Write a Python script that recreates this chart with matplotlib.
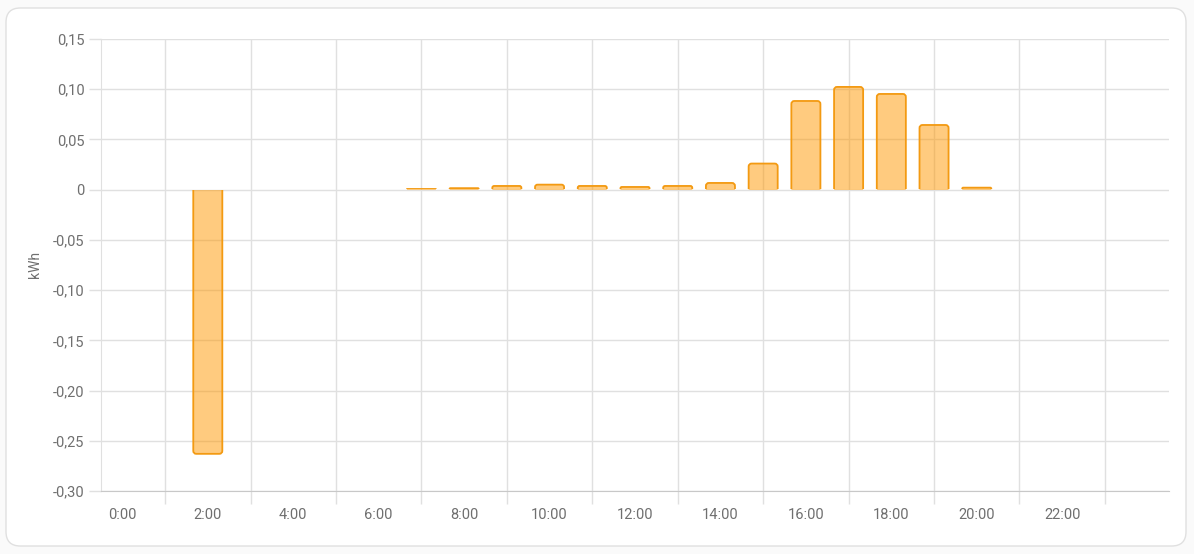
import matplotlib.pyplot as plt
from matplotlib.patches import FancyBboxPatch, Rectangle

plt.rcParams['font.family'] = ['Roboto', 'DejaVu Sans']

# hourly energy (kWh), hour 0..23
hours = list(range(24))
energy = [0, 0, -0.263, 0, 0, 0, 0, 0.0007, 0.0015, 0.0037, 0.005, 0.0037,
          0.0027, 0.0037, 0.0067, 0.026, 0.0883, 0.1023, 0.0953, 0.0644,
          0.002, 0, 0, 0]
y_ticks = [-0.30, -0.25, -0.20, -0.15, -0.10, -0.05, 0, 0.05, 0.10, 0.15]
y_labels = ['-0,30', '-0,25', '-0,20', '-0,15', '-0,10', '-0,05', '0',
            '0,05', '0,10', '0,15']
x_labels = ['0:00', '2:00', '4:00', '6:00', '8:00', '10:00', '12:00',
            '14:00', '16:00', '18:00', '20:00', '22:00']

text_col = '#6f6f6f'
grid_col = '#e0e0e0'

fig = plt.figure(figsize=(11.94, 5.54), dpi=100, facecolor='#fafafa')

# card
card = FancyBboxPatch((6 / 1194, 8 / 554), 1180 / 1194, 538 / 554,
                      boxstyle='round,pad=0,rounding_size=0.012',
                      mutation_aspect=1194 / 554,
                      transform=fig.transFigure, facecolor='white',
                      edgecolor='#e0e0e0', linewidth=1, zorder=-1)
fig.patches.append(card)

ax = fig.add_axes([101 / 1194, 1 - 491 / 554, 1068 / 1194, 452 / 554])
ax.set_facecolor('none')
ax.set_xlim(-0.5, 24.5)
ax.set_ylim(-0.30, 0.15)

bars = ax.bar(hours, energy, width=0.68, color='#ff9800', alpha=0)

# rounded tips, flat base with no border (like chart.js borderSkipped)
px_x = 1068 / 25.0
px_y = 452 / 0.45
for b in bars:
    x, w, h = b.get_x(), b.get_width(), b.get_height()
    if h == 0:
        continue
    r_px = min(3.0, abs(h) * px_y / 2)
    ext = 4.0 / px_y
    eps = 0.8 / px_y
    if h > 0:
        y0, hh = -ext, h + ext
        clip_fill = (0, 1)
        clip_edge = (eps, 1)
    else:
        y0, hh = h, -h + ext
        clip_fill = (-1, 0)
        clip_edge = (-1, -eps)
    style = 'round,pad=0,rounding_size=%f' % (r_px / px_x)
    for clip, fc, ec in [(clip_fill, (1.0, 0.596, 0.0, 0.5), 'none'),
                         (clip_edge, 'none', '#f39a12')]:
        p = FancyBboxPatch((x, y0), w, hh, boxstyle=style,
                           mutation_aspect=px_x / px_y,
                           facecolor=fc, edgecolor=ec, linewidth=1.3,
                           zorder=3)
        ax.add_patch(p)
        cr = Rectangle((x - 1, clip[0]), w + 2, clip[1] - clip[0],
                       transform=ax.transData)
        p.set_clip_path(cr)

ax.set_yticks(y_ticks)
ax.set_yticklabels(y_labels)
ax.set_xticks(list(range(1, 24, 2)))
ax.set_xticklabels([])
ax.set_xticks(list(range(0, 24, 2)), minor=True)
ax.set_xticklabels(x_labels, minor=True)

ax.grid(True, color=grid_col, linewidth=1)
ax.tick_params(axis='both', which='major', length=9, color=grid_col,
               width=1, labelcolor=text_col, labelsize=10.5)
ax.tick_params(axis='y', pad=3)
ax.tick_params(axis='x', which='minor', length=0, pad=12,
               labelcolor=text_col, labelsize=10.5)

for s in ['top', 'right']:
    ax.spines[s].set_visible(False)
ax.spines['left'].set_color(grid_col)
ax.spines['bottom'].set_color('#c8c8c8')

ax.set_ylabel('kWh', color=text_col, fontsize=10, labelpad=8)

plt.savefig('out.png', dpi=100, facecolor=fig.get_facecolor())
